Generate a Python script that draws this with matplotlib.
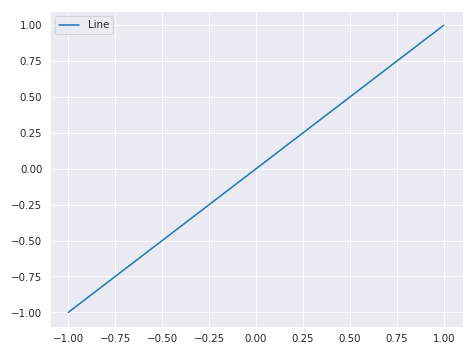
import matplotlib
matplotlib.use("Agg")
import matplotlib.pyplot as plt
import seaborn as sns

# Straight line from (-1, -1) to (1, 1)
X_VALUES = [-1.0, 1.0]
Y_VALUES = [-1.0, 1.0]

sns.set_style("darkgrid")

fig, ax = plt.subplots(figsize=(6.4, 4.8), dpi=74)
ax.plot(X_VALUES, Y_VALUES, label="Line")
ax.legend(loc="upper left")
fig.tight_layout()

fig.savefig("out.png", dpi=74)
